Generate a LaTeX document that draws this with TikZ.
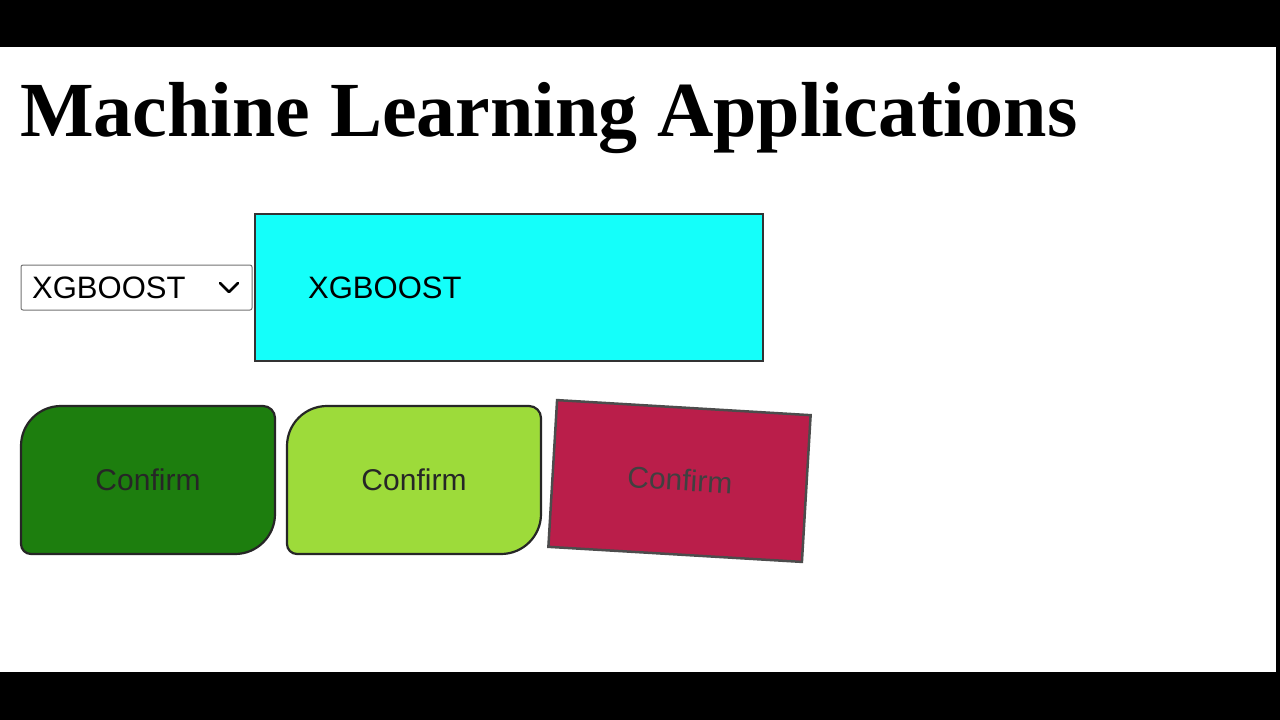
\documentclass[tikz,border=0pt]{standalone}
\usepackage{fontspec}
\setmainfont{Liberation Serif}
\newfontfamily\arial{Liberation Sans}
\definecolor{cyanbox}{RGB}{20,255,250}
\definecolor{dgreen}{RGB}{29,126,14}
\definecolor{lgreen}{RGB}{157,219,58}
\definecolor{crim}{RGB}{186,30,74}
\begin{document}
\begin{tikzpicture}[x=1pt,y=-1pt,
  btn/.style={draw=black!85,line width=2.2pt},
  lbl/.style={font=\arial\fontsize{30}{30}\selectfont,text=black!85}]
\useasboundingbox (0,0) rectangle (1280,720);
\fill[white] (0,0) rectangle (1280,720);
\fill[black] (0,0) rectangle (1280,47);
\fill[black] (0,672) rectangle (1280,720);
\fill[black] (1276,47) rectangle (1280,672);
\node[anchor=base west,inner sep=0,font=\bfseries\fontsize{78}{78}\selectfont] (title) at (20,136) {Machine Learning Applications};
% select
\draw[draw=black!55,line width=1pt,rounded corners=2pt,fill=white] (21,265) rectangle (252,310);
\node[anchor=base west,inner sep=0,font=\arial\fontsize{31}{31}\selectfont] (sel) at (32,298) {XGBOOST};
\draw[line width=2.5pt,line cap=round,line join=round] (220,283) -- (229,292) -- (238,283);
% cyan box
\draw[fill=cyanbox,draw=black!80,line width=2.5pt] (255,214) rectangle (763,361);
\node[anchor=base west,inner sep=0,font=\arial\fontsize{31}{31}\selectfont] (out) at (308,298) {XGBOOST};
% green buttons
\draw[btn,fill=dgreen] (21,446) arc[start angle=180,end angle=270,radius=40] -- (263,406) arc[start angle=270,end angle=360,radius=12] -- (275,514) arc[start angle=0,end angle=90,radius=40] -- (31,554) arc[start angle=90,end angle=180,radius=10] -- cycle;
\node[lbl] (c1) at (148,480) {Confirm};
\draw[btn,fill=lgreen] (287,446) arc[start angle=180,end angle=270,radius=40] -- (529,406) arc[start angle=270,end angle=360,radius=12] -- (541,514) arc[start angle=0,end angle=90,radius=40] -- (297,554) arc[start angle=90,end angle=180,radius=10] -- cycle;
\node[lbl] (c2) at (414,480) {Confirm};
% rotated red
\node[draw=black!70,line width=2.5pt,fill=crim,minimum width=254pt,minimum height=147pt,rotate=-3.4,inner sep=0] (c3) at (679.5,481) {};
\node[lbl,rotate=-3.4,text=black!75] (c3t) at (680,480) {Confirm};
\end{tikzpicture}
\end{document}
